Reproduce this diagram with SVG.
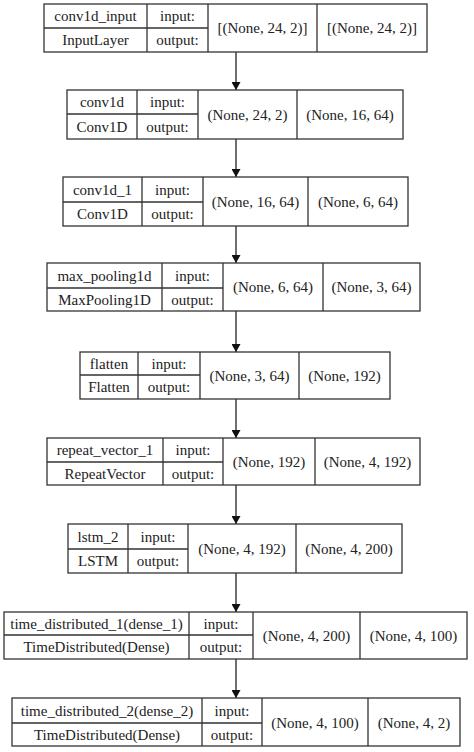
<svg xmlns="http://www.w3.org/2000/svg" width="474" height="752" viewBox="0 0 474 752">
<style>
.b{fill:none;stroke:#333;stroke-width:1.3}
.t{font-family:"Liberation Serif","Times New Roman",serif;font-size:15px;fill:#222;text-anchor:middle;dominant-baseline:central}
.c{stroke:#222;stroke-width:1.3;fill:none}
</style>
<defs>
<marker id="ah" markerWidth="8" markerHeight="9" refX="8" refY="4.5" orient="auto" markerUnits="userSpaceOnUse">
<path d="M0,0 L8,4.5 L0,9 Z" fill="#111"/>
</marker>
</defs>
<rect width="474" height="752" fill="#fff"/>
<g id="connectors">
<line class="c" x1="236" y1="52" x2="236" y2="90" marker-end="url(#ah)"/>
<line class="c" x1="236" y1="139" x2="236" y2="177" marker-end="url(#ah)"/>
<line class="c" x1="236" y1="226" x2="236" y2="263" marker-end="url(#ah)"/>
<line class="c" x1="236" y1="311" x2="236" y2="352" marker-end="url(#ah)"/>
<line class="c" x1="236" y1="399" x2="236" y2="438" marker-end="url(#ah)"/>
<line class="c" x1="236" y1="485" x2="236" y2="524" marker-end="url(#ah)"/>
<line class="c" x1="236" y1="573" x2="236" y2="612" marker-end="url(#ah)"/>
<line class="c" x1="236" y1="659" x2="236" y2="698" marker-end="url(#ah)"/>
</g>
<g id="conv1d_input">
<rect class="b" x="44" y="4" width="383" height="48"/>
<path class="b" d="M44,28H208M147,4V52M208,4V52M317,4V52"/>
<text class="t" x="95.5" y="16">conv1d_input</text>
<text class="t" x="95.5" y="40">InputLayer</text>
<text class="t" x="177.5" y="16">input:</text>
<text class="t" x="177.5" y="40">output:</text>
<text class="t" x="262.5" y="28">[(None, 24, 2)]</text>
<text class="t" x="372" y="28">[(None, 24, 2)]</text>
</g>
<g id="conv1d">
<rect class="b" x="67" y="90" width="336" height="49"/>
<path class="b" d="M67,114H198M137,90V139M198,90V139M297,90V139"/>
<text class="t" x="102" y="102">conv1d</text>
<text class="t" x="102" y="126.5">Conv1D</text>
<text class="t" x="167.5" y="102">input:</text>
<text class="t" x="167.5" y="126.5">output:</text>
<text class="t" x="247.5" y="114.5">(None, 24, 2)</text>
<text class="t" x="350" y="114.5">(None, 16, 64)</text>
</g>
<g id="conv1d_1">
<rect class="b" x="63" y="177" width="345" height="49"/>
<path class="b" d="M63,202H203M142,177V226M203,177V226M308,177V226"/>
<text class="t" x="102.5" y="189.5">conv1d_1</text>
<text class="t" x="102.5" y="214">Conv1D</text>
<text class="t" x="172.5" y="189.5">input:</text>
<text class="t" x="172.5" y="214">output:</text>
<text class="t" x="255.5" y="201.5">(None, 16, 64)</text>
<text class="t" x="358" y="201.5">(None, 6, 64)</text>
</g>
<g id="max_pooling1d">
<rect class="b" x="47" y="263" width="373" height="48"/>
<path class="b" d="M47,288H223M162,263V311M223,263V311M323,263V311"/>
<text class="t" x="104.5" y="275.5">max_pooling1d</text>
<text class="t" x="104.5" y="299.5">MaxPooling1D</text>
<text class="t" x="192.5" y="275.5">input:</text>
<text class="t" x="192.5" y="299.5">output:</text>
<text class="t" x="273" y="287">(None, 6, 64)</text>
<text class="t" x="371.5" y="287">(None, 3, 64)</text>
</g>
<g id="flatten">
<rect class="b" x="80" y="352" width="310" height="47"/>
<path class="b" d="M80,375H200M138,352V399M200,352V399M299,352V399"/>
<text class="t" x="109" y="363.5">flatten</text>
<text class="t" x="109" y="387">Flatten</text>
<text class="t" x="169" y="363.5">input:</text>
<text class="t" x="169" y="387">output:</text>
<text class="t" x="249.5" y="375.5">(None, 3, 64)</text>
<text class="t" x="344.5" y="375.5">(None, 192)</text>
</g>
<g id="repeat_vector_1">
<rect class="b" x="47" y="438" width="373" height="47"/>
<path class="b" d="M47,462H223M163,438V485M223,438V485M315,438V485"/>
<text class="t" x="105" y="450">repeat_vector_1</text>
<text class="t" x="105" y="473.5">RepeatVector</text>
<text class="t" x="193" y="450">input:</text>
<text class="t" x="193" y="473.5">output:</text>
<text class="t" x="269" y="461.5">(None, 192)</text>
<text class="t" x="367.5" y="461.5">(None, 4, 192)</text>
</g>
<g id="lstm_2">
<rect class="b" x="68" y="524" width="334" height="49"/>
<path class="b" d="M68,549H188M128,524V573M188,524V573M296,524V573"/>
<text class="t" x="98" y="536.5">lstm_2</text>
<text class="t" x="98" y="561">LSTM</text>
<text class="t" x="158" y="536.5">input:</text>
<text class="t" x="158" y="561">output:</text>
<text class="t" x="242" y="548.5">(None, 4, 192)</text>
<text class="t" x="349" y="548.5">(None, 4, 200)</text>
</g>
<g id="time_distributed_1">
<rect class="b" x="4" y="612" width="463" height="47"/>
<path class="b" d="M4,635H253M189,612V659M253,612V659M360,612V659"/>
<text class="t" x="96.5" y="623.5">time_distributed_1(dense_1)</text>
<text class="t" x="96.5" y="647">TimeDistributed(Dense)</text>
<text class="t" x="221" y="623.5">input:</text>
<text class="t" x="221" y="647">output:</text>
<text class="t" x="306.5" y="635.5">(None, 4, 200)</text>
<text class="t" x="413.5" y="635.5">(None, 4, 100)</text>
</g>
<g id="time_distributed_2">
<rect class="b" x="12" y="698" width="448" height="48"/>
<path class="b" d="M12,723H262M202,698V746M262,698V746M368,698V746"/>
<text class="t" x="107" y="710.5">time_distributed_2(dense_2)</text>
<text class="t" x="107" y="734.5">TimeDistributed(Dense)</text>
<text class="t" x="232" y="710.5">input:</text>
<text class="t" x="232" y="734.5">output:</text>
<text class="t" x="315" y="722.5">(None, 4, 100)</text>
<text class="t" x="414" y="722.5">(None, 4, 2)</text>
</g>
</svg>
